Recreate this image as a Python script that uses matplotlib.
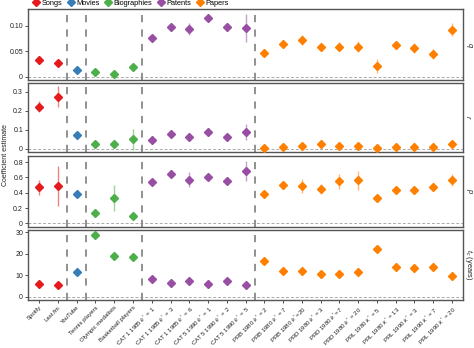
import matplotlib
matplotlib.use("Agg")
import matplotlib.pyplot as plt
from matplotlib.lines import Line2D

plt.rcParams['font.family'] = ['Liberation Sans', 'DejaVu Sans']
plt.rcParams['mathtext.fontset'] = 'custom'
plt.rcParams['mathtext.rm'] = 'Liberation Sans'
plt.rcParams['mathtext.it'] = 'Liberation Sans:italic'

categories = ["Spotify", "Last.fm", "YouTube", "Tennis players", "Olympic medalists",
              "Basketball players",
              "CAT 1 1985 $k^*$ = 1", "CAT 1 1985 $k^*$ = 3", "CAT 1 1985 $k^*$ = 6",
              "CAT 5 1990 $k^*$ = 1", "CAT 5 1990 $k^*$ = 2", "CAT 5 1990 $k^*$ = 5",
              "PRB 1980 $k^*$ = 2", "PRB 1980 $k^*$ = 7", "PRB 1980 $k^*$=20",
              "PRD 1980 $k^*$ = 3", "PRD 1980 $k^*$=7", "PRD 1980 $k^*$ = 20",
              "PRL 1980 $k^*$ = 5", "PRL 1980 $k^*$ = 13", "PRL 1990 $k^*$ = 3",
              "PRL 1990 $k^*$ = 7", "PRL 1990 $k^*$ = 20"]
groups = ["Songs"] * 2 + ["Movies"] + ["Biographies"] * 3 + ["Patents"] * 6 + ["Papers"] * 11
group_names = ["Songs", "Movies", "Biographies", "Patents", "Papers"]
group_colors = ["#E41A1C", "#377EB8", "#4DAF4A", "#984EA3", "#FF7F00"]

q = [0.033, 0.028, 0.014, 0.009, 0.005, 0.019, 0.076, 0.097, 0.093, 0.115, 0.097, 0.095,
     0.046, 0.064, 0.072, 0.059, 0.059, 0.059, 0.021, 0.062, 0.056, 0.045, 0.092]
q_err = [0.003, 0.003, 0.002, 0.002, 0.002, 0.007, 0.005, 0.004, 0.011, 0.007, 0.008, 0.027,
         0.008, 0.005, 0.009, 0.004, 0.008, 0.010, 0.013, 0.007, 0.010, 0.010, 0.012]
r = [0.221, 0.274, 0.075, 0.028, 0.028, 0.051, 0.046, 0.079, 0.063, 0.089, 0.063, 0.089,
     0.007, 0.012, 0.016, 0.028, 0.016, 0.014, 0.005, 0.011, 0.012, 0.011, 0.023]
r_err = [0.028, 0.055, 0.008, 0.005, 0.005, 0.055, 0.008, 0.008, 0.018, 0.008, 0.008, 0.044,
         0.004, 0.004, 0.006, 0.006, 0.005, 0.005, 0.004, 0.004, 0.004, 0.004, 0.006]
p = [0.47, 0.49, 0.385, 0.131, 0.33, 0.10, 0.54, 0.65, 0.57, 0.60, 0.555, 0.68,
     0.38, 0.50, 0.49, 0.45, 0.55, 0.56, 0.33, 0.44, 0.43, 0.47, 0.565]
p_err = [0.10, 0.26, 0.02, 0.02, 0.165, 0.04, 0.03, 0.05, 0.10, 0.03, 0.03, 0.13,
         0.02, 0.05, 0.09, 0.06, 0.10, 0.12, 0.02, 0.04, 0.03, 0.03, 0.08]
tc = [5.8, 5.3, 11.5, 28.5, 19.0, 18.6, 8.3, 6.2, 7.1, 5.9, 7.3, 5.6,
      16.4, 12.0, 11.9, 10.8, 10.5, 11.3, 22.0, 13.8, 13.5, 13.8, 9.6]
tc_err = [0.4] * 23

panels = [
    (q, q_err, "$q$", [0, 0.05, 0.10], ["0", "0.05", "0.10"], (-0.006, 0.132)),
    (r, r_err, "$r$", [0, 0.1, 0.2, 0.3], ["0", "0.1", "0.2", "0.3"], (-0.017, 0.345)),
    (p, p_err, "$p$", [0, 0.2, 0.4, 0.6, 0.8], ["0", "0.2", "0.4", "0.6", "0.8"], (-0.04, 0.88)),
    (tc, tc_err, "$t_c$ (years)", [0, 10, 20, 30], ["0", "10", "20", "30"], (-1.5, 31)),
]
boundaries = [1.5, 2.5, 5.5, 11.5]

# panel boxes in figure fractions (left, bottom, width, height)
boxes = [(0.059, 0.770, 0.918, 0.204),
         (0.059, 0.563, 0.918, 0.198),
         (0.059, 0.349, 0.918, 0.203),
         (0.059, 0.138, 0.918, 0.201)]

fig = plt.figure(figsize=(4.74, 3.48), dpi=100)
xs = list(range(len(categories)))
col_of = dict(zip(group_names, group_colors))

for i, (vals, errs, lab, ticks, ticklabels, ylim) in enumerate(panels):
    ax = fig.add_axes(boxes[i])
    ax.axhline(0, color="#aaaaaa", lw=0.7, ls=(0, (3, 2)), zorder=1)
    for b in boundaries:
        ax.axvline(b, color="#888888", lw=1.3, ls=(0, (4, 4)), zorder=1)
    for x, v, e, g in zip(xs, vals, errs, groups):
        c = col_of[g]
        ax.vlines(x, v - e, v + e, color=c, lw=1.0, alpha=0.55, zorder=2)
        ax.plot(x, v, marker="D", ms=3.6, color=c, mec=c, ls="none", zorder=3)
    ax.set_xlim(-0.6, 22.6)
    ax.set_ylim(*ylim)
    ax.set_yticks(ticks)
    ax.set_yticklabels(ticklabels)
    ax.set_xticks(xs)
    for s in ax.spines.values():
        s.set_color("#555555")
        s.set_linewidth(1.0)
    ax.tick_params(axis="both", length=2, width=0.6, color="#333333",
                   labelsize=5, pad=1.5, labelcolor="#222222")
    if i < 3:
        ax.tick_params(axis="x", length=0, labelbottom=False)
    else:
        ax.set_xticklabels(categories, rotation=45, ha="right",
                           rotation_mode="anchor", fontsize=4.3)
    fig.text(0.989, boxes[i][1] + boxes[i][3] / 2, lab, rotation=-90,
             va="center", ha="center", fontsize=5.3, color="#222222")

fig.text(0.011, 0.555, "Coefficient estimate", rotation=90, va="center",
         ha="center", fontsize=5, color="#222222")

handles = [Line2D([], [], marker="D", ms=3.8, color=c, ls="none") for c in group_colors]
fig.legend(handles, group_names, loc="upper left", bbox_to_anchor=(0.064, 1.01),
           ncol=5, frameon=False, fontsize=5.3, handlelength=0.8,
           handletextpad=0.3, columnspacing=0.8, borderaxespad=0)

fig.savefig("out.png", dpi=100)
